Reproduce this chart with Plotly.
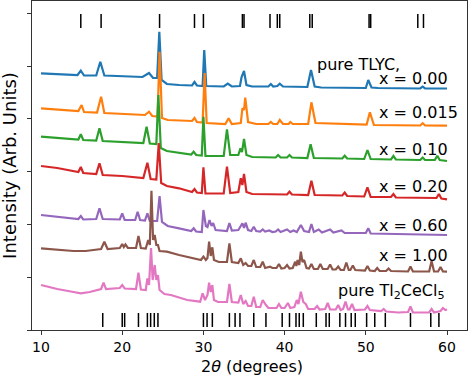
import plotly.graph_objects as go

# ---- data (2theta in degrees, intensity in arbitrary offset units) ----
tt_a = [10, 12, 14.5, 14.9, 15.3, 16.8, 17.3, 17.8, 20, 22.5, 23.3, 23.8, 24.3, 24.57, 24.85, 25.5, 27, 28.6, 28.9, 29.2,
        29.9, 30.1, 30.35, 32.5, 33.0, 33.5, 34.5, 34.7, 35.0, 35.3, 36, 38.0, 38.3, 38.6, 39.1, 39.4, 39.8, 42.8, 43.25,
        43.7, 44.5, 50.0, 50.3, 50.7, 51.5, 56.7, 57.0, 57.3, 60]
int_a = [256.7, 256, 255, 259.3, 254.5, 254.5, 268.3, 254.5, 254, 253, 257, 252, 252, 298.3, 250, 246, 245, 244.5, 248, 244.5,
         244, 280, 244, 243.5, 246.5, 243.5, 244, 253, 259, 245, 243.5, 243.5, 246, 243.5, 244, 246.3, 243.5, 243, 260,
         243.5, 242.5, 242, 250, 242.5, 242, 241.5, 243.3, 241.5, 241.5]

tt_b = [10, 12, 14.6, 15.0, 15.3, 16.9, 17.4, 17.8, 20, 22.8, 23.3, 23.7, 24.35, 24.6, 24.9, 25.6, 28.6, 28.9, 29.2, 29.9,
        30.15, 30.4, 32.7, 33.1, 33.5, 34.6, 34.8, 35.0, 35.15, 35.5, 36.5, 38.0, 38.3, 38.6, 39.1, 39.4, 39.8, 40.5, 40.7,
        41.0, 42.9, 43.3, 43.8, 45, 50.1, 50.5, 51.0, 56.7, 57.0, 57.3, 60]
int_b = [221.7, 220.5, 219, 225, 218, 217.5, 233.3, 217, 216, 215, 218.3, 214, 213.5, 278.3, 212, 210, 209, 212, 208, 207.5,
         257, 207, 206, 211.7, 206, 207, 221.7, 220, 232.3, 208, 206, 206, 208, 206, 206, 210, 206, 206, 208,
         206, 206, 227.7, 207, 206.7, 205.5, 217.7, 205, 204.5, 206.7, 204.5, 204.3]

tt_c = [10, 12, 14.6, 14.9, 15.2, 16.8, 17.2, 17.6, 20, 22.6, 23.0, 23.4, 24.2, 24.45, 24.75, 25.5, 28.5, 28.8, 29.1, 29.8,
        30.0, 30.25, 32.5, 32.9, 33.3, 34.3, 34.56, 34.75, 35.0, 35.3, 36, 38.9, 39.2, 39.5, 40.3, 40.6, 40.9, 42.8, 43.2,
        43.6, 47.1, 47.4, 47.7, 49.8, 50.2, 50.6, 53.1, 53.4, 53.7, 56.7, 57.0, 57.3, 58.5, 58.8, 59.1, 60]
int_c = [193.3, 192, 190.5, 195.7, 190, 189.5, 201.7, 189, 188, 187, 203.3, 186.5, 186, 235, 182, 179, 175.5, 178.3, 175, 174.5,
         213.3, 174, 174, 200.7, 175, 175, 181.7, 178, 191, 175, 173, 172.5, 175, 172.5, 172.5, 175, 172.5, 172, 185.7,
         172, 171.5, 174.3, 171.5, 171, 180, 171, 170.5, 174, 170.5, 170, 172.5, 170, 170, 174.3, 170, 169]

tt_d = [10, 12, 14.6, 14.9, 15.2, 16.8, 17.2, 17.6, 20, 22.6, 23.1, 23.5, 24.2, 24.5, 24.8, 25.5, 27, 28.6, 28.9, 29.2,
        29.8, 30.0, 30.25, 32.5, 32.9, 33.3, 34.3, 34.6, 34.8, 35.0, 35.3, 36, 40.3, 40.6, 40.9, 42.9, 43.3, 43.7, 47.1,
        47.4, 47.7, 49.8, 50.2, 50.6, 53.1, 53.4, 53.7, 58.7, 59.0, 59.3, 60]
int_d = [164, 162, 158, 163, 157, 156, 166.7, 155, 154, 152, 167.3, 151, 150.5, 187, 147, 144, 141.7, 138, 141, 137.5,
         137, 162.7, 136.5, 136.5, 163.3, 137, 138, 151.7, 145, 156, 138, 136, 135.5, 138.3, 135.5, 135, 149.3, 135, 134.5,
         137.5, 134, 133.5, 142.7, 133, 133, 136, 132.5, 132, 136, 131.5, 130.7]

tt_e = [10, 12, 14.6, 14.9, 15.2, 16.8, 17.2, 17.6, 19.7, 20.0, 20.3, 21.6, 21.9, 22.2, 22.8, 23.1, 23.4, 24.3, 24.6, 24.9,
        25.6, 27, 28.5, 28.8, 29.1, 29.8, 30.0, 30.3, 30.5, 30.75, 31.0, 31.2, 31.5, 32.9, 33.2, 33.5, 34.3, 34.6, 34.8,
        35.0, 35.2, 35.5, 35.9, 36.2, 36.5, 37.0, 37.3, 37.6, 38.1, 38.5, 38.9, 39.2, 39.5, 40.3, 40.7, 41.1, 41.5, 42.0,
        42.4, 43.0, 43.3, 43.6, 44.2, 44.6, 45.6, 46.0, 47.0, 47.4, 50.0, 50.3, 50.6, 60]
int_e = [115, 113, 111, 114, 110.5, 111, 121.7, 111, 110.5, 116.7, 110, 110, 118.3, 110, 109.5, 116.7, 109, 109, 134, 108,
         104, 101.7, 99, 101.7, 98.5, 98, 120, 104, 103, 110, 104, 107, 100, 99, 107, 99.5, 100, 104, 106.7,
         102, 107.3, 100, 99, 103.3, 99, 98.5, 100.5, 98.5, 99.5, 98, 98.5, 100.5, 98, 100.5, 98, 99.5, 98, 105,
         99, 98, 106, 98, 100.5, 97.5, 100.5, 97.5, 99.5, 97, 97, 101.7, 96.5, 95]

tt_f = [10, 12, 14, 15.5, 17.4, 17.8, 18.2, 19.7, 20.0, 20.2, 20.4, 20.7, 21.7, 22.0, 22.3, 22.9, 23.2, 23.4, 23.6, 23.8,
        24.0, 24.2, 24.4, 24.6, 25.5, 27, 28.5, 29.7, 30.0, 30.3, 30.5, 30.7, 30.9, 31.1, 31.3, 31.9, 32.9, 33.2, 33.5,
        34.3, 34.6, 34.9, 35.2, 35.5, 35.9, 36.2, 36.5, 37.0, 37.3, 37.6, 38.2, 38.5, 39.0, 39.3, 39.6, 40.0, 40.3, 40.6,
        41.0, 41.3, 41.45, 41.6, 41.8, 42.0, 42.2, 42.4, 42.7, 43.0, 43.3, 43.6, 44.1, 44.4, 44.7, 45.3, 45.6, 45.9,
        46.3, 46.6, 46.9, 47.3, 47.6, 47.9, 48.1, 48.4, 48.7, 49.9, 50.2, 50.5, 51.1, 51.4, 51.7, 52.5, 52.8, 53.1,
        55.2, 55.5, 55.8, 57.8, 58.1, 58.4, 58.9, 59.2, 59.5, 60]
int_f = [81.7, 80, 79, 79, 81, 88.3, 81, 82, 86, 83, 85.5, 82, 82, 94, 82, 81.5, 90, 85, 139.3, 90,
         95, 85, 85, 79, 78.3, 75, 72, 70, 73.3, 70, 72, 88.3, 74, 82.7, 70, 68, 68, 86.7, 68,
         67, 71.7, 65, 67, 64, 64, 70, 63, 63, 68.3, 62, 63.3, 62, 62, 66, 61.5, 62, 65, 61.5,
         62, 68.3, 64, 70, 65, 78.3, 68, 70, 62, 61.5, 66, 61, 61, 66, 61, 61, 65.5, 60.5,
         60.5, 63.5, 60, 60, 67.5, 60, 60, 64.5, 60, 59.5, 64, 59.5, 59, 62, 59, 59, 61.5, 59,
         58.5, 63.5, 58.5, 58.5, 69, 58.5, 58.5, 63, 58.5, 58.3]

tt_g = [10, 12, 14, 14.9, 16, 17.4, 17.7, 18.0, 19.7, 20.0, 20.3, 21.7, 22.0, 22.3, 22.9, 23.1, 23.3, 23.55, 23.75, 24.0,
        24.2, 24.4, 24.6, 25.2, 26, 28, 29.6, 29.9, 30.2, 30.5, 30.7, 30.9, 31.1, 31.3, 31.8, 32.9, 33.2, 33.5, 34.3,
        34.6, 34.9, 35.2, 35.5, 35.9, 36.2, 36.5, 37.0, 37.3, 37.7, 38.0, 39.0, 39.3, 39.6, 40.0, 40.4, 40.7, 41.2, 41.5,
        41.7, 42.0, 42.3, 42.6, 42.9, 43.7, 44.0, 44.3, 45.0, 45.3, 45.6, 46.3, 46.6, 46.9, 47.2, 47.5, 47.8, 48.0,
        48.3, 48.6, 49.9, 50.2, 50.5, 51.9, 52.2, 52.5, 54, 55.2, 55.5, 55.8, 57.8, 58.1, 58.4, 59.2, 59.5, 59.8, 60]
int_g = [45, 41, 38, 36.7, 38, 41, 47.3, 41, 42, 45, 41.5, 41, 57.3, 40.5, 40, 51.7, 45, 82, 50, 65,
         50, 55, 40, 36, 35, 30, 28.3, 36.7, 30, 35, 47.3, 38, 45, 30, 28, 28, 46, 28, 27.5,
         35, 26, 29, 24, 24, 33.3, 23, 23, 30, 25, 22, 22, 26, 22, 22, 27, 22, 23, 30,
         26, 38.3, 28, 26, 21, 21, 24, 20.5, 21, 27, 20.5, 20.5, 25, 20, 21, 28.3, 20.5, 20.5,
         26, 20, 20.5, 24, 20, 19, 21, 18.5, 17.5, 18, 23.5, 17.5, 17.5, 21, 17.5, 19, 22, 20, 20.5]

series_x = [tt_a, tt_b, tt_c, tt_d, tt_e, tt_f, tt_g]
series_y = [int_a, int_b, int_c, int_d, int_e, int_f, int_g]
series_names = ["x = 0.00", "x = 0.015", "x = 0.10", "x = 0.20", "x = 0.60", "x = 1.00", "pure Tl2CeCl5"]
colors = ["#1f77b4", "#ff7f0e", "#2ca02c", "#d62728", "#9467bd", "#8c564b", "#e377c2"]

# reflection positions (2theta)
refl_tlyc = [14.9, 17.4, 24.6, 28.9, 30.0, 34.8, 35.0, 38.2, 39.1, 39.4, 43.1, 43.4, 50.4, 50.6, 56.4, 57.1]
refl_tl2cecl5 = [17.6, 20.0, 20.3, 22.0, 23.1, 23.5, 23.95, 24.4, 30.0, 30.45, 31.1, 33.2, 33.9, 34.5, 36.2, 37.7,
                 39.7, 40.6, 41.4, 41.8, 42.3, 43.9, 45.1, 45.5, 46.8, 47.5, 48.2, 48.7, 50.1, 51.1, 52.4, 55.5,
                 58.0, 59.0]

# labels
label_texts = ["pure TLYC,", "x = 0.00", "x = 0.015", "x = 0.10", "x = 0.20", "x = 0.60", "x = 1.00",
               "pure Tl<sub>2</sub>CeCl<sub>5</sub>"]
label_x = [43.9, 51.5, 51.5, 51.5, 51.5, 51.5, 51.5, 46.5]
label_y = [266, 251.7, 217.7, 181, 144, 105, 75, 38.3]

fig = go.Figure()
for xs, ys, nm, c in zip(series_x, series_y, series_names, colors):
    fig.add_trace(go.Scatter(x=xs, y=ys, mode="lines", name=nm,
                             line=dict(color=c, width=2.2), showlegend=False))

fig.add_trace(go.Scatter(x=refl_tlyc, y=[309] * len(refl_tlyc), mode="markers",
                         marker=dict(symbol="line-ns", size=10, line=dict(color="black", width=1.5)),
                         showlegend=False))
fig.add_trace(go.Scatter(x=refl_tl2cecl5, y=[10] * len(refl_tl2cecl5), mode="markers",
                         marker=dict(symbol="line-ns", size=10, line=dict(color="black", width=1.5)),
                         showlegend=False))

for t, lx, ly in zip(label_texts, label_x, label_y):
    fig.add_annotation(x=lx, y=ly, text=t, showarrow=False, xanchor="left", yanchor="middle",
                       borderpad=0, font=dict(size=16, color="black"))

# axis titles as paper-positioned annotations
fig.add_annotation(x=0.506, y=-0.111, xref="paper", yref="paper", text="2<i>θ</i> (degrees)",
                   showarrow=False, xanchor="center", yanchor="middle", font=dict(size=16, color="black"))
fig.add_annotation(x=-0.052, y=0.5, xref="paper", yref="paper", text="Intensity (Arb. Units)",
                   showarrow=False, textangle=-90, xanchor="center", yanchor="middle",
                   font=dict(size=18, color="black"))

axis_common = dict(showline=True, linecolor="#333", linewidth=1, mirror=True, ticks="outside",
                   ticklen=4, tickcolor="#333", showgrid=False, zeroline=False, automargin=False)

fig.update_xaxes(range=[8.89, 62.46], tickvals=[10, 20, 30, 40, 50, 60],
                 tickfont=dict(size=14, color="black"), **axis_common)
fig.update_yaxes(range=[0, 329], tick0=0, dtick=52.8, showticklabels=False, **axis_common)

fig.update_layout(width=474, height=379, margin=dict(l=32, r=7, t=1, b=49),
                  plot_bgcolor="white", paper_bgcolor="white",
                  font=dict(family="DejaVu Sans", color="black"))

fig.write_html("out.html", config={"displayModeBar": False},
               post_script="document.body.style.margin='0';document.body.style.padding='0';")
